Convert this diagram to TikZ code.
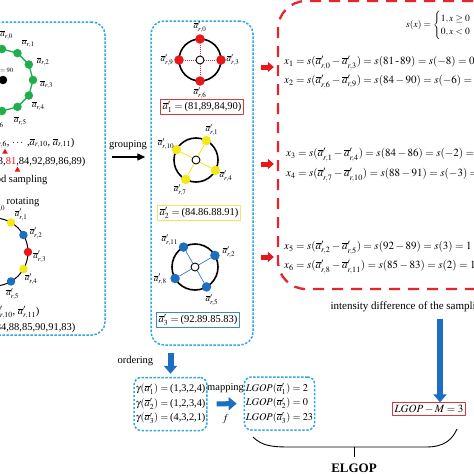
\documentclass[tikz,border=0pt]{standalone}
\usepackage{amsmath}
\usepackage{mathptmx}
\usepackage{fontspec}
\setmainfont{Liberation Serif}
\usepackage{xcolor}
\usepackage{tikz}
\usetikzlibrary{arrows.meta,positioning,shapes.geometric}
\definecolor{panelblue}{HTML}{2FA8DE}
\definecolor{dashred}{HTML}{E3262E}
\definecolor{arrowblue}{HTML}{1B6EC2}
\definecolor{ptred}{HTML}{E8161D}
\definecolor{ptyellow}{HTML}{F4E81A}
\definecolor{ptblue}{HTML}{1E6DBE}
\definecolor{ptgreen}{HTML}{1EAE4A}
\definecolor{boxred}{HTML}{D63A3A}
\definecolor{boxyellow}{HTML}{EFE46A}
\definecolor{boxblue}{HTML}{3C88C8}
\tikzset{
  elgop diagram/.style={
    x=1pt, y=-1pt,
    font=\fontsize{10.5}{12}\selectfont,
    line join=round
  },
  dashpanel/.style={
    draw=panelblue,
    line width=1.5pt,
    dash pattern=on 2.4pt off 1.6pt,
    rounded corners=13pt
  },
  smallpanel/.style={
    dashpanel,
    rounded corners=7pt,
    inner sep=1.5pt,
    align=left,
    font=\fontsize{10.3}{14.5}\selectfont
  },
  eqpanel/.style={
    draw=dashred,
    line width=2.3pt,
    dash pattern=on 11pt off 8pt,
    rounded corners=28pt
  },
  vecbox/.style={
    draw,
    line width=1pt,
    inner sep=2pt,
    font=\fontsize{10.5}{12}\selectfont
  },
  ringlabel/.style={
    font=\fontsize{9}{10}\selectfont,
    inner sep=0pt
  },
  samplept/.style={
    circle,
    inner sep=0pt,
    minimum size=9.5pt
  },
  smallpt/.style={
    samplept,
    minimum size=8.5pt
  },
  centrept/.style={
    circle,
    draw=black,
    fill=white,
    line width=0.9pt,
    inner sep=0pt,
    minimum size=8pt
  },
  ringline/.style={
    draw=black,
    line width=1.6pt
  },
  marker/.style={
    regular polygon,
    regular polygon sides=3,
    fill=ptred,
    inner sep=0pt,
    minimum size=6.5pt
  },
  eqtext/.style={
    anchor=west,
    inner sep=0pt,
    font=\fontsize{11}{13}\selectfont
  },
  redblock/.style={
    -{Triangle[length=6pt,width=10pt]},
    draw=ptred,
    line width=5pt
  },
  blueblock/.style={
    -{Triangle[length=8pt,width=13pt]},
    draw=arrowblue,
    line width=6pt
  },
  thinarrow/.style={
    -{Triangle[length=8pt,width=7pt]},
    draw=black,
    line width=1.4pt
  }
}
\begin{document}
\begin{tikzpicture}[elgop diagram]
\useasboundingbox (0,0) rectangle (474,474);
\clip (0,0) rectangle (474,474);
\fill[white] (0,0) rectangle (474,474);

\node[dashpanel, minimum width=145pt, minimum height=313pt] (sampling) at (32.5,178.5) {};
\node[dashpanel, minimum width=102pt, minimum height=324pt] (groups) at (202,183) {};
\node[eqpanel, minimum width=242pt, minimum height=288pt] (eqbox) at (399,145) {};

\begin{scope}[shift={(2,80)}]
\draw[draw=ptgreen, line width=1.3pt] (90:31pt) \foreach \k in {1,...,11}{ -- ({90-30*\k}:31pt)} -- cycle;
\foreach \k in {0,...,11}
  \node[smallpt, fill=ptgreen] (g\k) at ({90-30*\k}:31pt) {};
\foreach \k in {0,...,6}
  \node[ringlabel] at ({84-30*\k}:45pt) {$\overline{a}_{r,\k}$};
\node[smallpt, fill=black] (gc) at (1,0) {};
\end{scope}
\node[ringlabel, anchor=west, font=\fontsize{6.5}{7}\selectfont] (gval) at (0,70) {$=90$};

\node[anchor=east] (seqA) at (78,143) {$\overline{a}_{r,6}$, $\cdots$ ,$\overline{a}_{r,10}$, $\overline{a}_{r,11}$)};
\node[marker] (mk1) at (5,152) {};
\node[anchor=east] (valA) at (89,162) {83,\textcolor{ptred}{81},84,92,89,86,89)};
\node[marker] (mk2) at (17.5,170) {};
\node[anchor=east] (method) at (51,180) {od sampling};
\node (rotlabel) at (23,202) {rotating};

\begin{scope}[shift={(-6,252)}]
\draw[line width=1pt] (0,0) circle (34pt);
\foreach \k/\c in {0/ptred,1/ptyellow,2/ptblue,3/ptred,4/ptyellow,5/ptblue,6/ptred,7/ptyellow,8/ptblue,9/ptred,10/ptyellow,11/ptblue}
  \node[smallpt, fill=\c] (s\k) at ({90-30*\k}:34pt) {};
\foreach \k in {0,...,6}
  \node[ringlabel] at ({84-30*\k}:46pt) {$\overline{a}'_{r,\k}$};
\end{scope}
\node[anchor=east] (seqB) at (43,313) {$\overline{a}'_{r,10}$, $\overline{a}'_{r,11}$)};
\node[anchor=east] (valB) at (79,328) {89,84,88,85,90,91,83)};

\begin{scope}[shift={(200,60)}]
\draw[ringline] (0,0) circle (21pt);
\node[centrept] (rc) at (0,0) {};
\foreach \a/\k in {90/0,0/3,-90/6,180/9}{
  \node[samplept, fill=ptred] (ra\k) at (\a:21pt) {};
  \draw[ptred, line width=0.9pt, dash pattern=on 1pt off 1pt] (rc) -- (ra\k);
  \node[ringlabel] at (\a:33pt) {$\overline{a}'_{r,\k}$};
}
\end{scope}
\node[vecbox, draw=boxred] (vecA) at (202,107) {$\overline{a}'_1=$\,(81,89,84,90)};

\begin{scope}[shift={(196,160)}]
\draw[ringline] (0,0) circle (22pt);
\node[centrept] (yc) at (0,0) {};
\foreach \a/\k in {62/1,152/10,332/4,242/7}{
  \node[samplept, fill=ptyellow] (ya\k) at (\a:22pt) {};
  \draw[ptyellow, line width=0.8pt] (yc) -- (ya\k);
  \node[ringlabel] at (\a:34pt) {$\overline{a}'_{r,\k}$};
}
\end{scope}
\node[vecbox, draw=boxyellow] (vecB) at (199,213) {$\overline{a}'_2=$\,(84.86.88.91)};

\begin{scope}[shift={(195,267)}]
\draw[ringline] (0,0) circle (23pt);
\node[centrept] (bc) at (0,0) {};
\foreach \a/\l/\k in {120/133/11,30/24/2,210/200/8,300/297/5}{
  \node[samplept, fill=ptblue] (ba\k) at (\a:23pt) {};
  \draw[ptblue, line width=0.6pt] (bc) -- (ba\k);
  \node[ringlabel] at (\l:37pt) {$\overline{a}'_{r,\k}$};
}
\end{scope}
\node[vecbox, draw=boxblue] (vecC) at (198,320) {$\overline{a}'_3=$\,(92.89.85.83)};

\draw[thinarrow, shorten <=6pt, shorten >=5pt] (sampling.east |- 0,157) -- node[above=3pt] {grouping} (groups.west |- 0,157);
\foreach \y in {67,164,257}
  \draw[redblock, shorten <=7pt, shorten >=3pt] (groups.east |- 0,\y) -- (eqbox.west |- 0,\y);

\node[eqtext, font=\fontsize{9.5}{11}\selectfont] (sfun) at (406,25) {$s(x)=\begin{cases}1,x\ge 0\\0,x<0\end{cases}$};
\node[eqtext] (x1) at (284,63) {$x_1=s(\overline{a}'_{r,0}-\overline{a}'_{r,3})=s(81\,$-$\,89)=s(-8)=0$};
\node[eqtext] (x2) at (284,82) {$x_2=s(\overline{a}'_{r,6}-\overline{a}'_{r,9})=s(84-90)=s(-6)=0$};
\node[eqtext] (x3) at (286,155) {$x_3=s(\overline{a}'_{r,1}-\overline{a}'_{r,4})=s(84-86)=s(-2)=0$};
\node[eqtext] (x4) at (286,175) {$x_4=s(\overline{a}'_{r,7}-\overline{a}'_{r,10})=s(88-91)=s(-3)=0$};
\node[eqtext] (x5) at (284,248) {$x_5=s(\overline{a}'_{r,2}-\overline{a}'_{r,5})=s(92-89)=s(3)=1$};
\node[eqtext] (x6) at (284,267) {$x_6=s(\overline{a}'_{r,8}-\overline{a}'_{r,11})=s(85-83)=s(2)=1$};

\node[anchor=west, font=\fontsize{11}{12}\selectfont] (gap) at (327,307) {intensity difference of the sampling points};
\node[vecbox, draw=boxred, font=\fontsize{11}{12}\selectfont, inner sep=2pt] (result) at (429,409) {$LGOP-M=3$};
\draw[blueblock, shorten <=3pt] (gap.south -| 440,0) -- (result.north -| 440,0);

\node[smallpanel, minimum width=65pt, minimum height=53pt] (order) at (170.5,404) {$\gamma(\overline{a}'_1)=$\,(1,3,2,4)\\$\gamma(\overline{a}'_2)=$\,(1,2,3,4)\\$\gamma(\overline{a}'_3)=$\,(4,3,2,1)};
\draw[blueblock, shorten <=7pt, shorten >=3pt] (order.north |- groups.south) -- node[left=11pt] {ordering} (order.north);

\node[smallpanel, minimum width=65pt, minimum height=53pt] (lgop) at (279.5,403.5) {$LGOP(\overline{a}'_1)=2$\\$LGOP(\overline{a}'_2)=0$\\$LGOP(\overline{a}'_3)=23$};
\draw[blueblock, line width=5pt, shorten <=9pt, shorten >=7pt] (order.east) -- node[above=5pt] {mapping} node[below=5pt] {$f$} (lgop.west);

\coordinate (braceL) at (253,437);
\coordinate (braceR) at (457,429);
\coordinate (braceM) at (354,447);
\draw[line width=0.9pt] (braceL) .. controls (262,446) and (272,447) .. (290,447) -- (426,447) .. controls (444,447) and (452,440) .. (braceR);
\draw[line width=0.9pt] (braceM) -- ++(0,10) coordinate (bracetip);
\node[anchor=north, inner sep=7pt, font=\fontsize{13}{14}\selectfont\bfseries] (elgop) at (bracetip) {ELGOP};
\end{tikzpicture}
\end{document}
